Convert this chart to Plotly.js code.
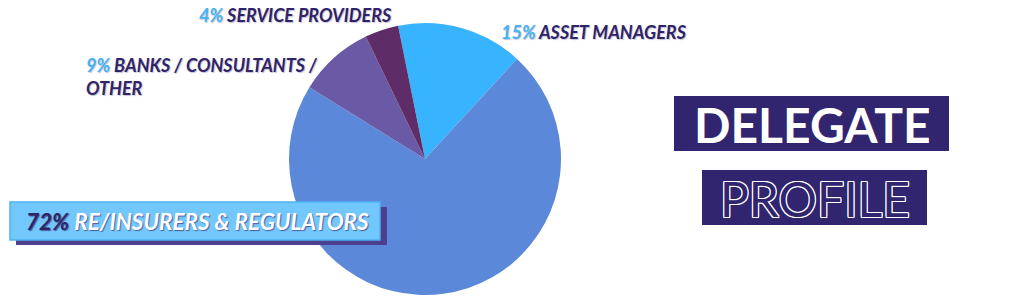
<!DOCTYPE html>
<html>
<head>
<meta charset="utf-8">
<script src="https://cdn.plot.ly/plotly-3.0.1.min.js"></script>
<style>
html,body{margin:0;padding:0;background:#fff;}
#chart{width:1024px;height:300px;}
</style>
</head>
<body>
<div id="chart"></div>
<script>
// Data
const categories = ["ASSET MANAGERS", "RE/INSURERS & REGULATORS", "BANKS / CONSULTANTS / OTHER", "SERVICE PROVIDERS"];
const values = [15, 72, 9, 4];
const sliceColors = ["#38B4FE", "#5B88D8", "#6A5AA6", "#5E2D68"];
const titleLines = ["DELEGATE", "PROFILE"];

const W = 1024, H = 300;
const px = x => x / W;
const py = y => 1 - y / H;

const navy = "#2E2466";
const pctBlue = "#45B2F4";
const labelFont = {family: "Lato, 'Open Sans', sans-serif", size: 18, color: navy, weight: 700, style: "italic",
  shadow: "1px 1px 1px rgba(60,50,120,0.3)"};

function pctLabel(i) {
  return '<span style="color:' + pctBlue + '">' + values[i] + '%</span> ';
}

const trace = {
  type: "pie",
  labels: categories,
  values: values,
  sort: false,
  direction: "clockwise",
  rotation: -11.4,
  marker: {colors: sliceColors, line: {width: 0}},
  textinfo: "none",
  hoverinfo: "label+percent",
  domain: {x: [px(289), px(561)], y: [py(295), py(23)]},
  showlegend: false
};

const annotations = [
  {text: pctLabel(3) + categories[3], x: px(197), y: py(15), xanchor: "left", yanchor: "middle"},
  {text: pctLabel(0) + categories[0], x: px(499), y: py(32), xanchor: "left", yanchor: "middle"},
  {text: pctLabel(2) + "BANKS / CONSULTANTS /<br>OTHER", x: px(84), y: py(76), xanchor: "left", yanchor: "middle", align: "left"}
].map(a => Object.assign({xref: "paper", yref: "paper", showarrow: false, font: labelFont}, a));

annotations.push({
  xref: "paper", yref: "paper", showarrow: false,
  x: px(24), y: py(221), xanchor: "left", yanchor: "middle",
  text: '<span style="color:' + navy + '">' + values[1] + '%</span> ' + categories[1],
  font: {family: "Lato, 'Open Sans', sans-serif", size: 22.5, color: "#ffffff", weight: 700, style: "italic",
    shadow: "1px 1px 1px rgba(60,45,130,0.7)"}
});

annotations.push({
  xref: "paper", yref: "paper", showarrow: false,
  x: px(812), y: py(124), xanchor: "center", yanchor: "middle",
  text: titleLines[0],
  font: {family: "Lato, 'Open Sans', sans-serif", size: 48, color: "#ffffff", weight: 700}
});
annotations.push({
  xref: "paper", yref: "paper", showarrow: false,
  x: px(815), y: py(198), xanchor: "center", yanchor: "middle",
  text: titleLines[1],
  font: {family: "Lato, 'Open Sans', sans-serif", size: 48, color: "#312570", weight: 400,
    shadow: "1px 0 0 #fff, -1px 0 0 #fff, 0 1px 0 #fff, 0 -1px 0 #fff, 1px 1px 0 #fff, -1px -1px 0 #fff, 1px -1px 0 #fff, -1px 1px 0 #fff"}
});

const shapes = [
  {type: "rect", xref: "paper", yref: "paper", layer: "above",
   x0: px(16), x1: px(387), y0: py(245), y1: py(207), fillcolor: "#4B3F8E", line: {width: 0}},
  {type: "rect", xref: "paper", yref: "paper", layer: "above",
   x0: px(10), x1: px(380), y0: py(240), y1: py(202), fillcolor: "#72C8FC", line: {color: "#4FB2F2", width: 1.5}},
  {type: "rect", xref: "paper", yref: "paper", layer: "above",
   x0: px(674), x1: px(949), y0: py(151), y1: py(96), fillcolor: "#312570", line: {width: 0}},
  {type: "rect", xref: "paper", yref: "paper", layer: "above",
   x0: px(702), x1: px(927), y0: py(225), y1: py(170), fillcolor: "#312570", line: {width: 0}}
];

const layout = {
  width: W, height: H,
  margin: {l: 0, r: 0, t: 0, b: 0, pad: 0},
  paper_bgcolor: "#ffffff",
  plot_bgcolor: "#ffffff",
  showlegend: false,
  annotations: annotations,
  shapes: shapes
};

Plotly.newPlot("chart", [trace], layout, {displayModeBar: false, staticPlot: true});
</script>
</body>
</html>
